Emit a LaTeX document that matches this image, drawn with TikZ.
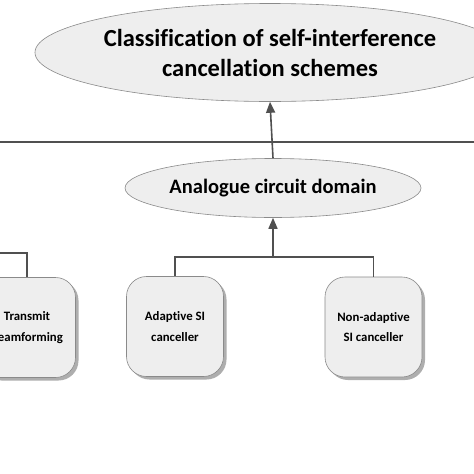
\documentclass[tikz,border=0pt]{standalone}
\usepackage{fontspec}
\setmainfont{Carlito}[Ligatures=NoCommon]
\usetikzlibrary{shapes.geometric,arrows.meta,shadows}
\definecolor{linec}{HTML}{505050}
\definecolor{bordc}{HTML}{8A8A8A}
\definecolor{fillc}{HTML}{EEEEEE}
\tikzset{
  ell/.style={ellipse,draw=bordc,fill=fillc,line width=0.6pt,inner sep=0pt,align=center,font=\bfseries},
  leaf/.style={rectangle,rounded corners=20pt,draw=bordc,fill=fillc,line width=0.6pt,
     minimum width=97pt,minimum height=100pt,align=center,font=\bfseries\fontsize{12.8}{20.5}\selectfont,
     drop shadow={shadow xshift=3pt,shadow yshift=-3pt,fill=black!45,opacity=0.7}},
  conn/.style={draw=linec,line width=1.6pt},
  arr/.style={conn,-{Triangle[length=11pt,width=9pt]}}
}
\begin{document}
\begin{tikzpicture}[x=1pt,y=1pt]
\useasboundingbox (0,0) rectangle (474,-474);
\fill[white] (0,0) rectangle (474,-474);
\node[ell,minimum width=406pt,minimum height=98pt,font=\bfseries\fontsize{24.5}{30}\selectfont] (top) at (270,-52.5)
  {Classification of self-interference\\cancellation schemes};
\node[ell,minimum width=296pt,minimum height=59pt,font=\bfseries\fontsize{20.5}{24}\selectfont] (mid) at (273,-188) {Analogue circuit domain};
\coordinate (hl) at (0,-142);
\coordinate (hr) at (474,-142);
\draw[conn,line width=1.3pt] (hl) -- (hr);
\draw[arr] (mid.north) -- (top.south);
\node[leaf] (tx) at (27,-327.5) {Transmit\\beamforming};
\node[leaf] (ad) at (175,-326.5) {Adaptive SI\\canceller};
\node[leaf] (na) at (373.5,-327) {Non-adaptive\\SI canceller};
\coordinate (br) at (273,-257);
\coordinate (lft) at (0,-253);
\draw[conn] (ad.north) |- (br) -| (na.north);
\draw[arr] (br) -- (mid.south);
\draw[conn] (tx.north) |- (lft);
\end{tikzpicture}
\end{document}
